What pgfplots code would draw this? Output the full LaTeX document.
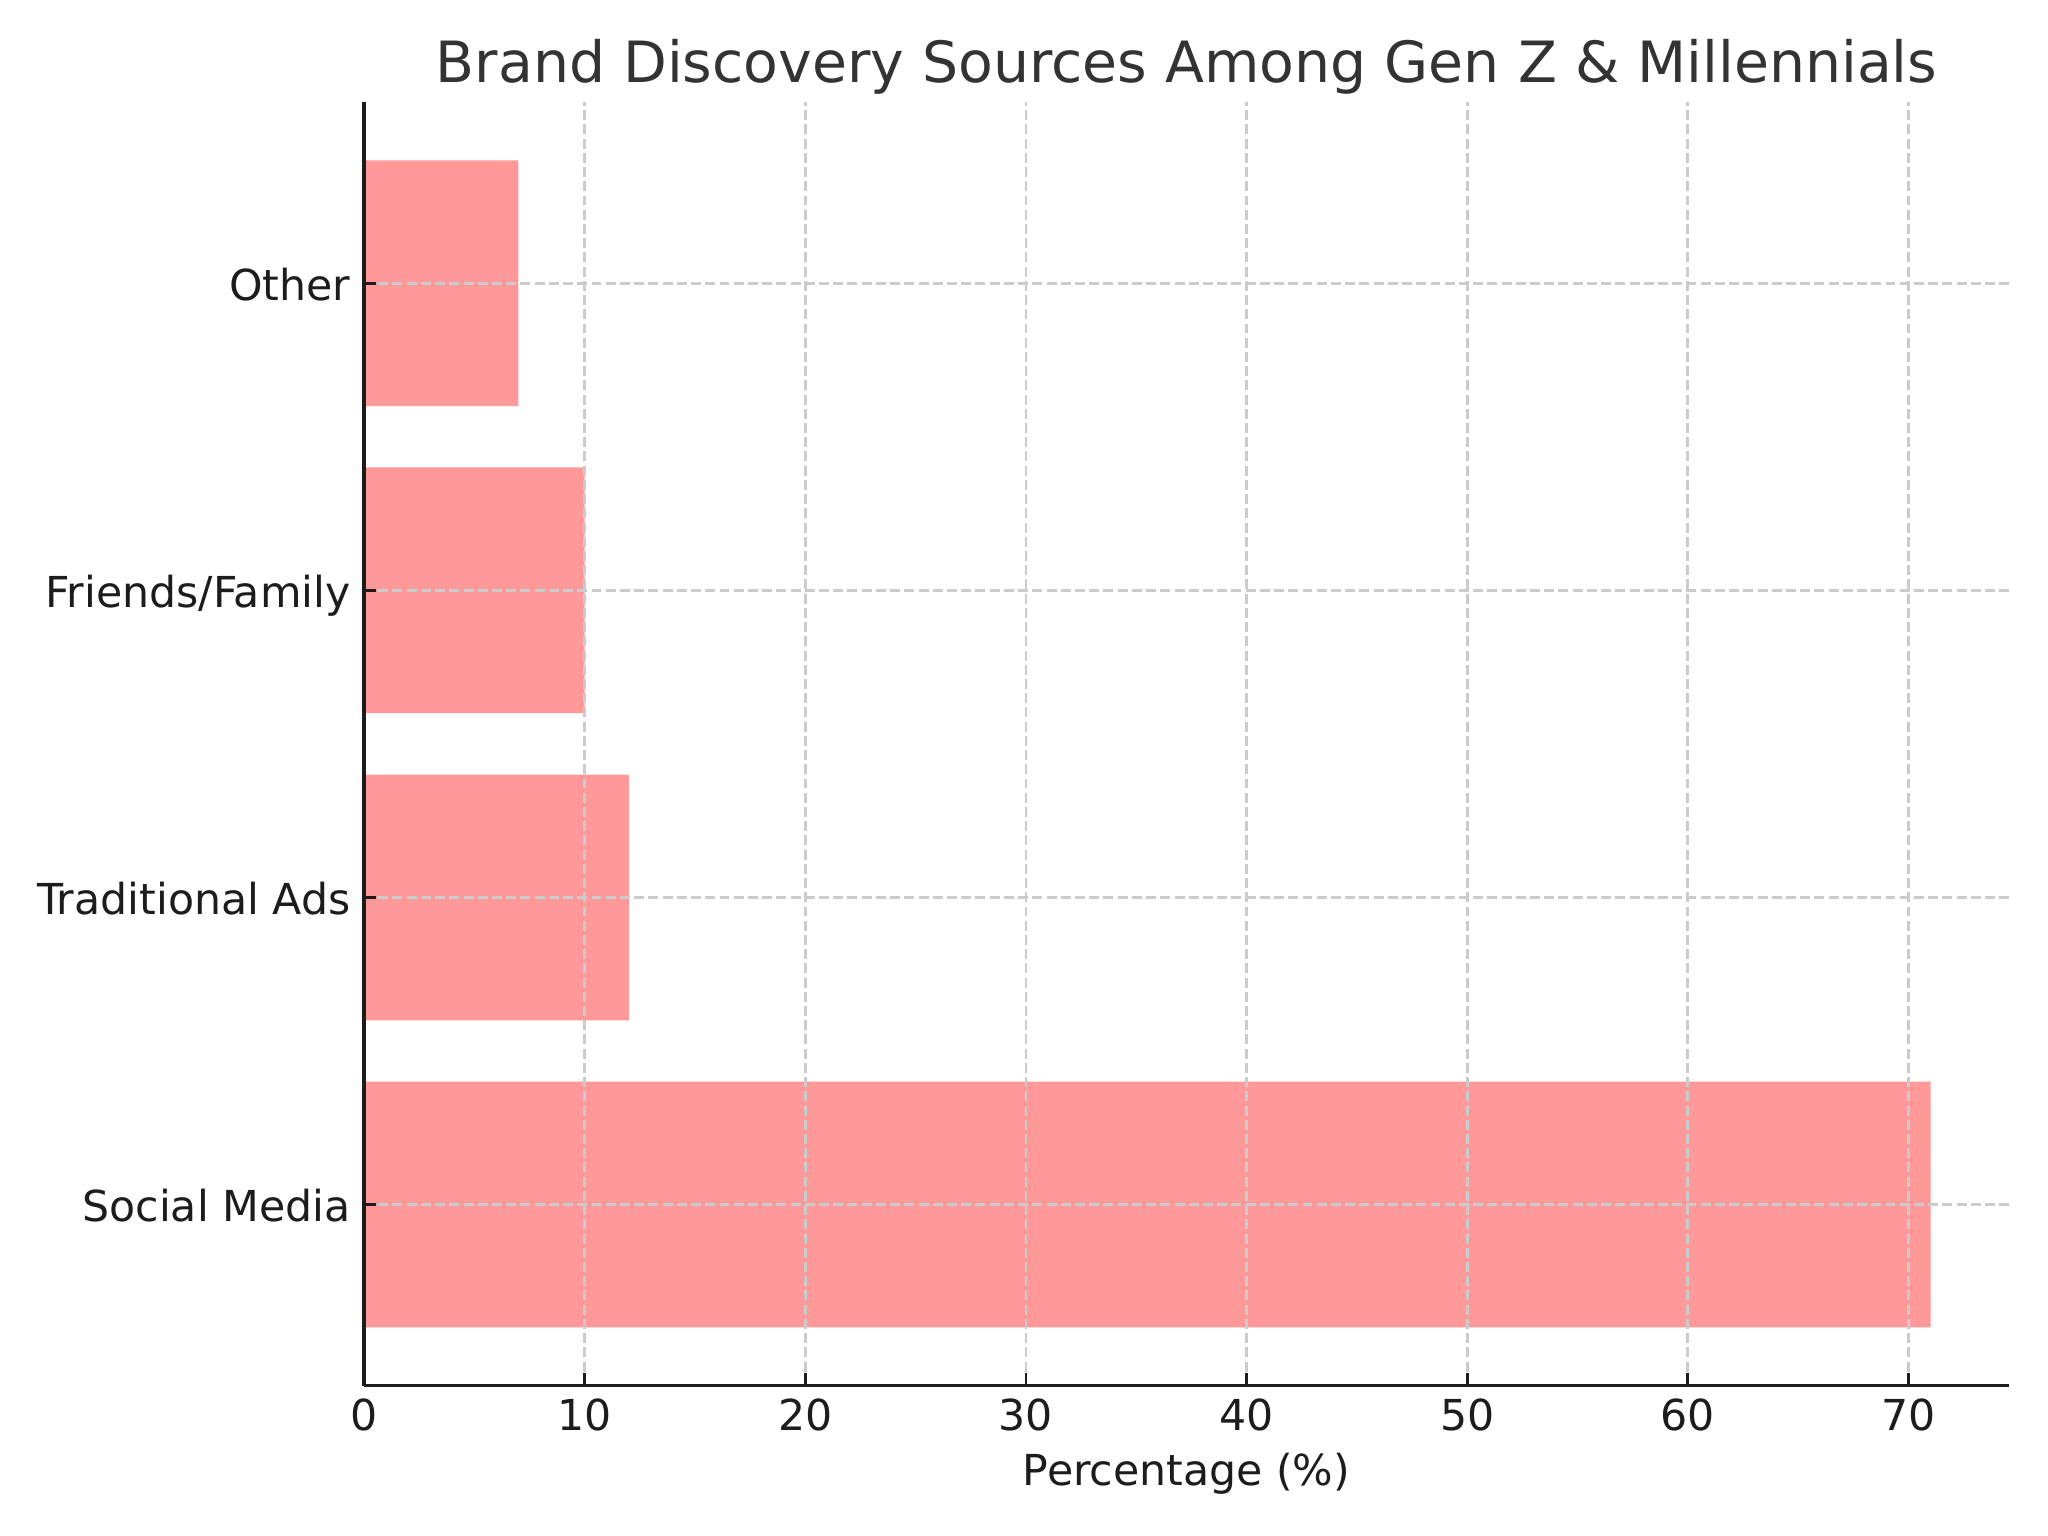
\documentclass[border=0pt]{standalone}
\usepackage{pgfplots}
\pgfplotsset{compat=1.18}
\usepackage{fontspec}
\setmainfont{DejaVu Sans}
\definecolor{barpink}{HTML}{FF9999}
\definecolor{gridgray}{HTML}{CBCBCB}
\definecolor{axisblack}{HTML}{1C1C1C}
\definecolor{titlegray}{HTML}{333333}
\begin{document}
\begin{tikzpicture}
\path[use as bounding box] (-102.4pt,-42.2pt) rectangle (473.7pt,389.8pt);
\begin{axis}[
  scale only axis,
  width=462.7pt, height=361.1pt,
  at={(0,0)}, anchor=south west,
  xmin=0, xmax=74.55,
  ymin=-0.59, ymax=3.59,
  xbar, bar width=0.8,
  axis x line*=bottom, axis y line*=left,
  axis on top,
  axis line style={color=axisblack, line width=0.9pt},
  tick style={color=axisblack, line width=0.8pt},
  tick align=inside,
  major tick length=3.5pt,
  xtick={0,10,20,30,40,50,60,70},
  ytick={0,1,2,3},
  yticklabels={Social Media, Traditional Ads, Friends/Family, Other},
  /pgf/number format/assume math mode=true,
  ticklabel style={font=\fontsize{12}{14}\selectfont, text=axisblack},
  xticklabel style={anchor=base, inner sep=0pt, yshift=-12.7pt},
  yticklabel style={anchor=base east, inner sep=0pt, xshift=-3.6pt, yshift=-4.8pt},
  grid=major,
  major grid style={color=gridgray, line width=0.8pt, dash pattern=on 2.8pt off 1.2pt},
  xlabel={Percentage (\%)},
  xlabel style={at={(axis description cs:0.5,0)}, anchor=base, inner sep=0pt, yshift=-28.1pt, font=\fontsize{12}{14}\selectfont, text=axisblack},
  title={Brand Discovery Sources Among Gen Z \& Millennials},
  every axis title/.style={at={(axis description cs:0.5,1)}, anchor=base, inner sep=0pt, yshift=5.6pt, font=\fontsize{16}{19}\selectfont, text=titlegray},
]
\addplot[fill=barpink, draw=none] coordinates {(71,0) (12,1) (10,2) (7,3)};
\end{axis}
\end{tikzpicture}
\end{document}
